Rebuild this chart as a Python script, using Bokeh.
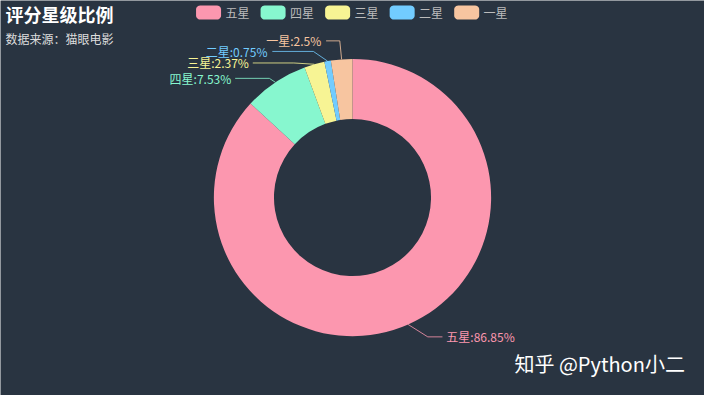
import math
from bokeh.plotting import figure
from bokeh.models import Range1d, ColumnDataSource
from bokeh.core.properties import value
from bokeh.embed import file_html
from bokeh.resources import INLINE

# ---- data ----
categories = ["五星", "四星", "三星", "二星", "一星"]
percents = [86.85, 7.53, 2.37, 0.75, 2.5]
colors = ["#fc97af", "#87f7cf", "#f7f494", "#72ccff", "#f7c5a0"]
title_text = "评分星级比例"
subtitle_text = "数据来源：猫眼电影"
watermark_text = "知乎 @Python小二"

W, H = 704, 395
BG = "#293441"
FONT = "Noto Sans CJK SC"
KX, KY = W / 720, H / 411
K = (KX + KY) / 2

def X(sx):
    return sx * KX

def Y(sy):
    return H - sy * KY

p = figure(width=W, height=H, output_backend="svg", toolbar_location=None,
           x_range=Range1d(0, W), y_range=Range1d(0, H),
           x_axis_location=None, y_axis_location=None,
           min_border=0, background_fill_color=BG, border_fill_color=BG,
           outline_line_color=None)
p.grid.visible = False

# ---- donut ----
cx, cy = 360, 205
R_out, R_in = 143, 81
total = sum(percents)
starts, ends, mids = [], [], []
cum = 0.0
for v in percents:
    a0 = math.pi / 2 - 2 * math.pi * cum / total
    cum += v
    a1 = math.pi / 2 - 2 * math.pi * cum / total
    starts.append(a0)
    ends.append(a1)
    mids.append((a0 + a1) / 2)

src = ColumnDataSource(dict(x=[X(cx)] * len(percents), y=[Y(cy)] * len(percents),
                            start=starts, end=ends, color=colors))
p.annular_wedge(x="x", y="y", inner_radius=R_in * K, outer_radius=R_out * K,
                inner_radius_units="screen", outer_radius_units="screen",
                start_angle="start", end_angle="end", direction="clock",
                fill_color="color", line_color=None, source=src)

# ---- labels with leader lines (elbow + end in reference px, text anchor) ----
label_layout = {
    "五星": dict(elbow=(437, 350), end=(452, 350), tx=456, align="left"),
    "四星": dict(elbow=(275, 81), end=(240, 81), tx=236, align="right"),
    "三星": dict(elbow=(300, 65), end=(258, 65), tx=254, align="right"),
    "二星": dict(elbow=(320, 53), end=(278, 53), tx=273, align="right"),
    "一星": dict(elbow=(347, 42), end=(333, 42), tx=328, align="right"),
}
for cat, v, col, m in zip(categories, percents, colors, mids):
    lay = label_layout[cat]
    px0 = X(cx) + R_out * K * math.cos(m)
    py0 = Y(cy) + R_out * K * math.sin(m)
    xs = [px0, X(lay["elbow"][0]), X(lay["end"][0])]
    ys = [py0, Y(lay["elbow"][1]), Y(lay["end"][1])]
    p.line(xs, ys, line_color=col, line_width=1, line_alpha=0.8)
    txt = f"{cat}:{v:g}%"
    p.text(x=[X(lay["tx"])], y=[Y(lay["end"][1])], text=[txt],
           text_color=col, text_font=value(FONT), text_font_size="12px",
           text_align=lay["align"], text_baseline="middle")

# ---- legend ----
def rounded_rect(x0, y0, w, h, r, n=6):
    xs, ys = [], []
    corners = [(x0 + w - r, y0 + r, -90), (x0 + w - r, y0 + h - r, 0),
               (x0 + r, y0 + h - r, 90), (x0 + r, y0 + r, 180)]
    for (ccx, ccy, a0) in corners:
        for k in range(n + 1):
            a = math.radians(a0 + 90 * k / n)
            xs.append(ccx + r * math.cos(a))
            ys.append(ccy + r * math.sin(a))
    return xs, ys

leg_x0, leg_step, leg_y = 200, 66, 12.5
for i, (cat, col) in enumerate(zip(categories, colors)):
    lx = leg_x0 + i * leg_step
    xs, ys = rounded_rect(X(lx), Y(leg_y) - 7, 25, 14, 4)
    p.patch(xs, ys, fill_color=col, line_color=None)
    p.text(x=[X(lx + 30)], y=[Y(leg_y)], text=[cat], text_color="#bcbcbc",
           text_font=value(FONT), text_font_size="12px",
           text_align="left", text_baseline="middle")

# ---- titles ----
p.text(x=[X(5)], y=[Y(14)], text=[title_text], text_color="#ffffff",
       text_font=value(FONT), text_font_size="18px", text_font_style="bold",
       text_align="left", text_baseline="middle")
p.text(x=[X(5)], y=[Y(40)], text=[subtitle_text], text_color="#dddddd",
       text_font=value(FONT), text_font_size="12px",
       text_align="left", text_baseline="middle")

# ---- watermark ----
p.text(x=[X(700)], y=[Y(378)], text=[watermark_text], text_color="#ffffff",
       text_font=value(FONT), text_font_size="20px",
       text_align="right", text_baseline="middle")

open("out.html", "w").write(file_html(p, INLINE))
